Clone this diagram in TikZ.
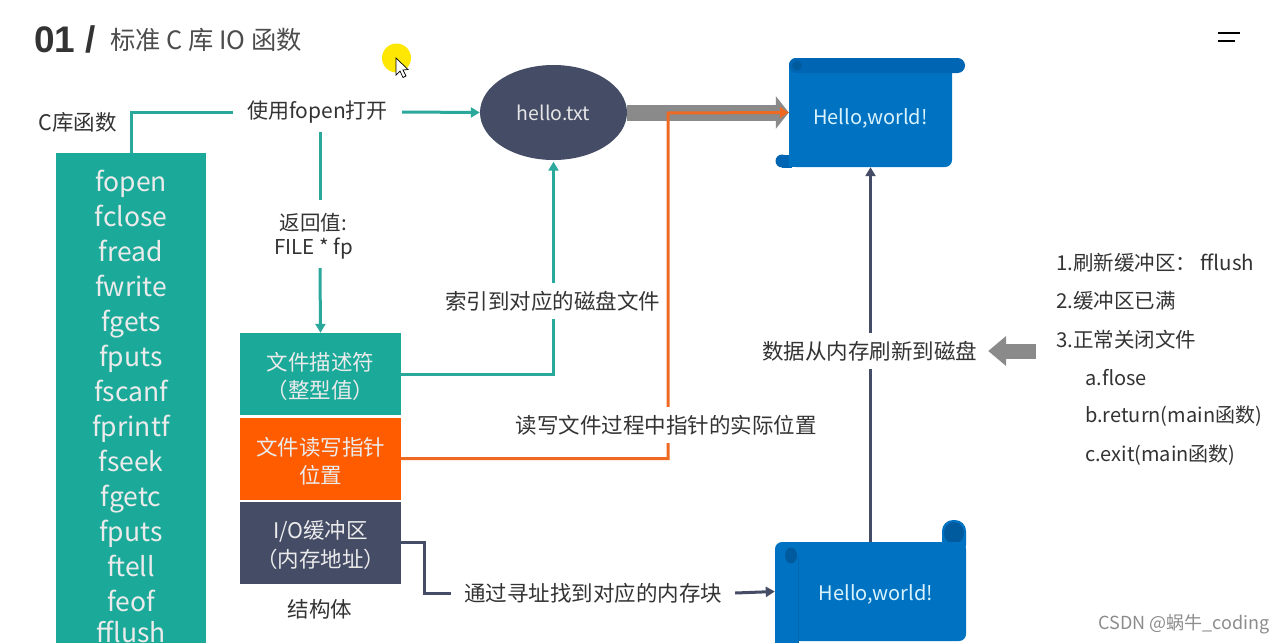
\documentclass[tikz,border=0pt]{standalone}
\usepackage{fontspec}
\setmainfont{Noto Sans CJK SC}
\newfontfamily\boldhead{Liberation Sans}[BoldFont={Liberation Sans Bold}]
\usetikzlibrary{arrows.meta,calc,shapes.geometric}
\definecolor{teal1}{HTML}{1BAA9A}
\definecolor{tealline}{HTML}{2AA89C}
\definecolor{orange1}{HTML}{FF5C00}
\definecolor{orangeline}{HTML}{EE6A22}
\definecolor{navy1}{HTML}{444C66}
\definecolor{blue1}{HTML}{0072C2}
\definecolor{blue2}{HTML}{0066B4}
\definecolor{blue3}{HTML}{005A9E}
\definecolor{grey1}{HTML}{8A8A8A}
\definecolor{txt}{HTML}{333333}
\newcommand{\fs}[1]{\fontsize{#1}{#1}\selectfont}
\newcommand{\lowerstrut}{\rule{0pt}{23.5pt}}
\tikzset{
 lbl/.style={font=\fs{21.5},text=txt,inner sep=0pt,align=center},
 gaplbl/.style={lbl,fill=white,inner xsep=6pt,inner ysep=8pt},
 box/.style={minimum width=161,minimum height=82,inner sep=0pt,align=center,text=white!92!black,font=\fs{21.5}},
 tl/.style={draw=tealline,line width=3pt,-{Triangle[length=9pt,width=10pt]}},
 ol/.style={draw=orangeline,line width=3pt,-{Triangle[length=9pt,width=11pt]}},
 nl/.style={draw=navy1,line width=3pt,-{Triangle[length=9pt,width=10pt]}},
 item/.style={font=\fs{20.5},text=txt,anchor=west,inner sep=0pt},
 subitem/.style={item,font=\fs{20}},
 fn/.style={font=\fs{26.5},text=white!92!black,inner sep=0pt,anchor=base},
 scrollbody/.style={fill=blue1,rounded corners=7pt,inner sep=0pt,text=white!85!cyan,font=\fs{20}},
 thick arrow/.style={draw=grey1,line width=16pt,-{Triangle[length=13pt,width=32pt]}},
}
\begin{document}
\begin{tikzpicture}[x=1pt,y=1pt,line join=miter]
\useasboundingbox (0,0) rectangle (1285,-643);
% heading
\node[anchor=west,inner sep=0pt,font=\fs{37}\boldhead\bfseries,text=txt] (h1) at (34,-39) {01 /};
\node[anchor=west,inner sep=0pt,font=\fs{25.3},text=black!70] (h2) at (110,-40) {标准 C 库 IO 函数};
\draw[black,line width=2pt] (1218,-33) -- (1240,-33);
\draw[black,line width=2pt] (1218,-41) -- (1235,-41);
% function list
\fill[teal1] (56,-153) rectangle (206,-643);
\coordinate (funcs) at (131,-153);
\foreach \t [count=\i from 0] in {fopen,fclose,fread,fwrite,fgets,fputs,fscanf,fprintf,fseek,fgetc,fputs,ftell,feof}{
  \node[fn] (f\i) at (131,{-191-35*\i}) {\t};
}
\node[fn] (f13) at (131,-642) {fflush};
\node[lbl] (clib) at (77.5,-122) {C库函数};
% main nodes
\node[ellipse,fill=navy1,minimum width=147,minimum height=95,inner sep=0pt,text=white!90!black,font=\fs{19.5}] at (553.5,-112.5) (hello) {hello.txt};
\node[lbl,font=\fs{21},inner xsep=14pt,inner ysep=9pt] (open) at (317.5,-112) {使用fopen打开};
\node[lbl,font=\fs{20.5},inner ysep=9pt] (ret) at (313.5,-236) {返回值:\\[4pt]FILE * fp};
\node[box,fill=teal1] (fd) at (320.5,-374) {\lowerstrut 文件描述符\\[6pt]（整型值）};
\node[box,fill=orange1] (fp) at (320.5,-458.5) {\lowerstrut 文件读写指针\\[6pt]位置};
\node[box,fill=navy1] (io) at (320.5,-542.5) {\lowerstrut I/O缓冲区\\[6pt]（内存地址）};
\node[lbl] (st) at (320,-609) {结构体};
% scroll A
\fill[blue2] (782,-161) circle[radius=6.5];
\fill[blue2] (782,-154.5) rectangle (792,-167.5);
\node[scrollbody,minimum width=163,minimum height=109] (sa) at (870.5,-112.5) {\raisebox{-11.5pt}[0pt][0pt]{Hello,world!}};
\fill[blue1] (789,-150) rectangle (800,-167);
\fill[blue2,rounded corners=7.4pt] (789,-73) -- (789,-58) -- (965,-58) -- (965,-73) -- cycle;
\fill[blue3] (797,-65.5) ellipse[x radius=5,y radius=5];
% scroll B
\fill[blue1,rounded corners=11pt] (942,-556) -- (942,-520) -- (966,-520) -- (966,-556) -- cycle;
\fill[blue3] (954,-533) ellipse[x radius=10,y radius=11];
\node[scrollbody,minimum width=191,minimum height=99] (sb) at (870.5,-591.5) {\hspace{11pt}\raisebox{-9pt}[0pt][0pt]{Hello,world!}};
\fill[blue1] (775,-600) rectangle (798,-643);
\draw[blue2,line width=.8pt] (798,-556) -- (798,-643);
\fill[blue3] (791,-555.5) ellipse[x radius=6,y radius=8];
% connectors
\draw[tl,-] (funcs) |- (open.west);
\draw[tl] (open.east) -- (hello.west);
\draw[tl,-] (320,-132) -- (320,-200);
\draw[tl] (320,-268) -- (fd.north);
\draw[thick arrow] (hello.east) -- (sa.west);
\draw[ol] (fp.east) -| (668,-113) -- (sa.west);
\draw[tl] (fd.east) -| ($(hello.south)+(0,-1.5)$);
\node[gaplbl] (l1) at (552.5,-301) {索引到对应的磁盘文件};
\node[gaplbl] (l2) at (666,-425) {读写文件过程中指针的实际位置};
\coordinate (k1) at (424,-593);
\node[lbl,inner xsep=13pt] (l3) at (593,-593) {通过寻址找到对应的内存块};
\draw[nl,-] (io.east) -| (k1) -- (l3.west);
\draw[nl] (l3.east) -- (sb.west);
\draw[nl] (sb.north) -- (sa.south);
\node[gaplbl] (l4) at (869.5,-351) {数据从内存刷新到磁盘};
\coordinate (ga) at (1036,-351);
\draw[draw=grey1,line width=15pt,-{Triangle[length=18pt,width=29pt]},shorten >=5pt] (ga) -- (l4.east);
% list on the right
\node[item] (a1) at (1056,-263) {1.刷新缓冲区： fflush};
\node[item] (a2) at (1056,-301) {2.缓冲区已满};
\node[item] (a3) at (1056,-340) {3.正常关闭文件};
\node[subitem] (a4) at (1085,-378) {a.flose};
\node[subitem] (a5) at (1085,-416) {b.return(main函数)};
\node[subitem] (a6) at (1085,-455) {c.exit(main函数)};
% watermark
\node[anchor=east,inner sep=0pt,font=\fs{18},text=black!45] (wm) at (1270,-624) {CSDN @蜗牛\_coding};
% pointer highlight
\fill[yellow!90!orange] (396.5,-58) circle[radius=14.5];
\draw[fill=white,line width=.7pt] (396,-58) -- (396,-75) -- (400,-71) -- (403,-77.5) -- (406,-76) -- (403,-70) -- (408,-69.5) -- cycle;
\end{tikzpicture}
\end{document}
